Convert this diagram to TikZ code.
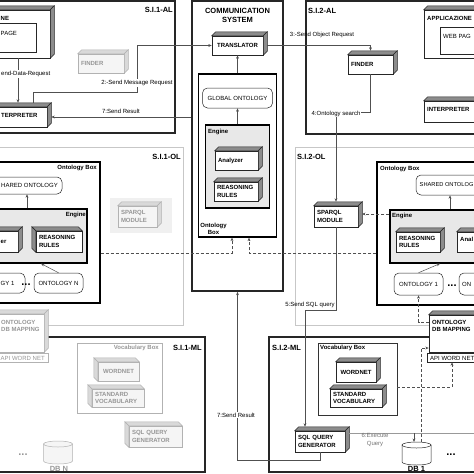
\documentclass[tikz,border=0pt]{standalone}
\usepackage{fontspec}
\setmainfont{Liberation Sans}
\usetikzlibrary{arrows.meta}

% 3D faces of a node box (back face up-right or up-left)
\newcommand{\cubetr}[2][cubeface]{%
  \filldraw[#1] (#2.north west) -- ([shift={(4pt,4pt)}]#2.north west) -- ([shift={(4pt,4pt)}]#2.north east) -- (#2.north east) -- cycle;
  \filldraw[#1] (#2.north east) -- ([shift={(4pt,4pt)}]#2.north east) -- ([shift={(4pt,4pt)}]#2.south east) -- (#2.south east) -- cycle;
}
\newcommand{\cubetl}[2][cubeface]{%
  \filldraw[#1] (#2.north east) -- ([shift={(-4pt,4pt)}]#2.north east) -- ([shift={(-4pt,4pt)}]#2.north west) -- (#2.north west) -- cycle;
  \filldraw[#1] (#2.north west) -- ([shift={(-4pt,4pt)}]#2.north west) -- ([shift={(-4pt,4pt)}]#2.south west) -- (#2.south west) -- cycle;
}
% database drum round a node
\newcommand{\dbdrum}[2][elem]{%
  \filldraw[#1] ([yshift=-3pt]#2.north west) -- ([yshift=3pt]#2.south west) arc[start angle=180, end angle=360, x radius=14.5pt, y radius=3pt] -- ([yshift=-3pt]#2.north east) -- cycle;
  \filldraw[#1] ([yshift=-3pt]#2.north) ellipse [x radius=14.5pt, y radius=3pt];
}

\begin{document}
\begin{tikzpicture}[x=1pt, y=-1pt,
    txt/.style={font=\fontsize{6}{7.5}\selectfont, inner sep=0pt},
    btxt/.style={font=\fontsize{6}{7.5}\selectfont\bfseries, inner sep=0pt},
    head/.style={font=\fontsize{7.5}{9}\selectfont\bfseries, inner sep=0pt},
    ellip/.style={font=\fontsize{11}{11}\selectfont\bfseries, inner sep=0pt},
    elem/.style={draw=black!85, fill=white, line width=0.5pt, inner sep=2pt, font=\fontsize{6}{7.5}\selectfont\bfseries},
    fadedelem/.style={elem, draw=black!30, fill=black!4, text=faded},
    roundelem/.style={elem, rounded corners=5pt, font=\fontsize{6}{7.5}\selectfont},
    heavyelem/.style={draw=black, line width=1.2pt},
    engineelem/.style={heavyelem, fill=enginegray},
    sysframe/.style={draw=black!85, line width=1.4pt},
    olframe/.style={draw=black!22, line width=0.9pt},
    cubeface/.style={fill=cubeside, draw=black!85, line width=0.5pt},
    fadedface/.style={fill=black!15, draw=black!30, line width=0.5pt},
    drum/.style={inner sep=0pt, outer sep=0pt, minimum width=29pt, minimum height=23pt},
    arr/.style={draw=linegray, line width=0.5pt, -{Stealth[length=3.5pt,width=2.8pt]}},
    dasharr/.style={arr, dash pattern=on 3pt off 2pt},
    wire/.style={draw=black!40, line width=0.5pt}]

    % Define colors
    \definecolor{faded}{RGB}{150,150,150}
    \definecolor{cubeside}{RGB}{140,140,140}
    \definecolor{enginegray}{RGB}{232,232,232}
    \definecolor{linegray}{RGB}{80,80,80}

    \useasboundingbox (0,0) rectangle (474,474);

    % S.I.1-AL
    \draw[sysframe] (-5,1) -- (175,1) -- (175,133) -- (-5,133);
    \node[head, anchor=east] (al1) at (173,10) {S.I.1-AL};
    \node[elem, minimum width=90pt, minimum height=48pt] (appL) at (5,34) {};
    \cubetr{appL}
    \node[btxt, anchor=west] (appLt) at (0.5,18) {NE};
    \node[elem, minimum width=56pt, minimum height=29pt] (webL) at (8,37.5) {};
    \node[txt, anchor=west] (webLt) at (0.5,33) {PAGE};
    \node[fadedelem, minimum width=46pt, minimum height=19pt, text width=40pt, align=left] (finderL) at (101,63.5) {FINDER};
    \cubetr[fadedface]{finderL}
    \node[elem, minimum width=87pt, minimum height=20pt] (interL) at (3.5,117) {};
    \cubetr{interL}
    \node[btxt, anchor=west] (interLt) at (1,115) {TERPRETER};

    % communication system
    \node[sysframe, minimum width=91pt, minimum height=290pt] (comm) at (237.5,146) {};
    \node[head, align=center] (commt) at (237.5,15.5) {COMMUNICATION\\SYSTEM};
    \node[elem, minimum width=51pt, minimum height=19pt] (translator) at (237.5,45.5) {TRANSLATOR};
    \cubetr{translator}
    \node[heavyelem, minimum width=78pt, minimum height=163pt] (ontoC) at (237.5,155.5) {};
    \node[btxt, align=center] (ontoCt) at (213.5,229) {Ontology\\Box};
    \node[roundelem, minimum width=70pt, minimum height=20pt] (globalC) at (237.5,98) {GLOBAL ONTOLOGY};
    \node[engineelem, minimum width=64pt, minimum height=83pt] (engineC) at (237.5,166.5) {};
    \node[btxt, anchor=west] (engineCt) at (208,132) {Engine};
    \node[elem, minimum width=43pt, minimum height=19pt, text width=37pt, align=left] (analyzerC) at (236.5,160.5) {Analyzer};
    \cubetr{analyzerC}
    \node[elem, minimum width=44pt, minimum height=19pt, text width=38pt, align=left] (reasonC) at (236,191.5) {REASONING\\RULES};
    \cubetr{reasonC}

    % S.I.2-AL
    \draw[sysframe] (306,1) rectangle (480,134);
    \node[head, anchor=west] (al2) at (308,11) {S.I.2-AL};
    \node[elem, minimum width=45pt, minimum height=19pt, text width=39pt, align=left] (finderR) at (370.5,64.5) {FINDER};
    \cubetr{finderR}
    \node[elem, minimum width=66pt, minimum height=48pt] (appR) at (457,34) {};
    \cubetr{appR}
    \node[btxt, anchor=west] (appRt) at (427,18) {APPLICAZIONE};
    \node[elem, minimum width=50pt, minimum height=27pt] (webR) at (465,40.5) {};
    \node[txt, anchor=west] (webRt) at (443,36) {WEB PAG};
    \node[elem, minimum width=66pt, minimum height=21pt] (interR) at (457,111.5) {};
    \cubetr{interR}
    \node[btxt, anchor=west] (interRt) at (427,109) {INTERPRETER};

    % S.I.1-OL
    \draw[olframe] (-5,147) rectangle (183,325);
    \node[head, anchor=east] (ol1) at (181,157) {S.I.1-OL};
    \node[heavyelem, minimum width=105pt, minimum height=141pt] (ontoL) at (47.5,232.5) {};
    \node[btxt, anchor=east] (ontoLt) at (97,168) {Ontology Box};
    \node[roundelem, minimum width=102pt, minimum height=17pt] (sharedL) at (11,185.5) {};
    \node[txt, anchor=east] (sharedLt) at (58,185.5) {HARED ONTOLOGY};
    \node[engineelem, minimum width=92pt, minimum height=54pt] (engineL) at (41,236) {};
    \node[btxt, anchor=east] (engineLt) at (86,215) {Engine};
    \node[elem, minimum width=48pt, minimum height=21pt] (analyzerL) at (-6,241.5) {};
    \cubetr{analyzerL}
    \node[btxt, anchor=west] (analyzerLt) at (0.5,242) {er};
    \node[elem, minimum width=46pt, minimum height=21pt, text width=40pt, align=left] (reasonL) at (59,241.5) {REASONING\\RULES};
    \cubetl{reasonL}
    \node[roundelem, minimum width=55pt, minimum height=20pt] (onto1L) at (-2.5,283) {};
    \node[txt, anchor=west] (onto1Lt) at (0.5,283) {GY 1};
    \node[ellip] (dotsL) at (26,284.5) {...};
    \node[roundelem, minimum width=49pt, minimum height=20pt] (ontoNL) at (58.5,283) {ONTOLOGY N};
    \fill[black!6] (110,198) rectangle (172,233);
    \node[fadedelem, minimum width=39pt, minimum height=21pt, text width=33pt, align=left] (sparqlL) at (137.5,216.5) {SPARQL\\MODULE};
    \cubetr[fadedface]{sparqlL}

    % S.I.2-OL
    \draw[olframe] (295,147) rectangle (480,325);
    \node[head, anchor=west] (ol2) at (297,157) {S.I.2-OL};
    \node[elem, minimum width=44pt, minimum height=21pt, text width=38pt, align=left] (sparqlR) at (336,216.5) {SPARQL\\MODULE};
    \cubetr{sparqlR}
    \node[heavyelem, minimum width=113pt, minimum height=143pt] (ontoR) at (433.5,233.5) {};
    \node[btxt, anchor=west] (ontoRt) at (380,168.5) {Ontology Box};
    \node[roundelem, minimum width=94pt, minimum height=20pt] (sharedR) at (463,185) {};
    \node[txt, font=\fontsize{5.7}{7}\selectfont, anchor=west] (sharedRt) at (419.5,185) {SHARED ONTOLOG};
    \node[engineelem, minimum width=100pt, minimum height=53pt] (engineR) at (440,236.5) {};
    \node[btxt, anchor=west] (engineRt) at (392,216) {Engine};
    \node[elem, minimum width=44pt, minimum height=20pt, text width=38pt, align=left] (reasonR) at (418,242) {REASONING\\RULES};
    \cubetr{reasonR}
    \node[elem, minimum width=53pt, minimum height=20pt] (analyzerR) at (483.5,242) {};
    \cubetr{analyzerR}
    \node[btxt, anchor=west] (analyzerRt) at (460,239) {Anal};
    \node[roundelem, minimum width=49pt, minimum height=22pt] (onto1R) at (418.5,284) {ONTOLOGY 1};
    \node[ellip] (dotsR) at (452,285.5) {...};
    \node[roundelem, minimum width=56pt, minimum height=22pt] (ontoNR) at (487,284) {};
    \node[txt, anchor=west] (ontoNRt) at (462,284) {ON};

    % S.I.1-ML
    \draw[sysframe] (-5,337) rectangle (205,472);
    \node[head, anchor=east] (ml1) at (202,348) {S.I.1-ML};
    \node[fadedelem, fill=white, minimum width=84pt, minimum height=38pt] (dbmapL) at (2,333) {};
    \cubetr[fadedface]{dbmapL}
    \node[btxt, text=faded, anchor=west, align=left] (dbmapLt) at (1,326) {ONTOLOGY\\DB MAPPING};
    \node[fadedelem, fill=white, minimum width=53pt, minimum height=9pt] (apiL) at (21.5,357.5) {};
    \node[txt, text=faded, anchor=west] (apiLt) at (0.5,358) {API WORD NET};
    \node[draw=black!30, line width=0.6pt, minimum width=85pt, minimum height=70pt] (vocabL) at (119.5,378) {};
    \node[btxt, text=faded, anchor=east] (vocabLt) at (159,348) {Vocabulary Box};
    \node[fadedelem, minimum width=41pt, minimum height=19pt] (wordnetL) at (118.5,371.5) {WORDNET};
    \cubetl[fadedface]{wordnetL}
    \node[fadedelem, minimum width=52pt, minimum height=18pt, text width=46pt, align=left] (stdvocL) at (118,398) {STANDARD\\VOCABULARY};
    \cubetl[fadedface]{stdvocL}
    \node[fadedelem, minimum width=53pt, minimum height=21pt, text width=47pt, align=left] (sqlL) at (155.5,436.5) {SQL QUERY\\GENERATOR};
    \cubetl[fadedface]{sqlL}
    \node[drum] (dbN) at (58,452.5) {};
    \dbdrum[fadedelem]{dbN}
    \node[head, text=faded] (dbNt) at (59,468.5) {DB N};
    \node[ellip, text=faded] (dotsDbL) at (23,455) {...};

    % S.I.2-ML
    \draw[sysframe] (269,337) rectangle (480,472);
    \node[head, anchor=west] (ml2) at (272,348) {S.I.2-ML};
    \node[draw=black!80, line width=0.6pt, minimum width=79pt, minimum height=72pt] (vocabR) at (357.5,379) {};
    \node[btxt, anchor=west] (vocabRt) at (320,348) {Vocabulary Box};
    \node[elem, minimum width=40pt, minimum height=20pt] (wordnetR) at (356,372) {WORDNET};
    \cubetr{wordnetR}
    \node[elem, minimum width=52pt, minimum height=18pt, text width=46pt, align=left] (stdvocR) at (356,398) {STANDARD\\VOCABULARY};
    \cubetr{stdvocR}
    \node[elem, minimum width=50pt, minimum height=21pt, text width=44pt, align=left] (sqlR) at (320,441.5) {SQL QUERY\\GENERATOR};
    \cubetr{sqlR}
    \node[elem, minimum width=61pt, minimum height=37pt] (dbmapR) at (459.5,333.5) {};
    \cubetr{dbmapR}
    \node[btxt, anchor=west, align=left] (dbmapRt) at (432,326) {ONTOLOGY\\DB MAPPING};
    \node[elem, minimum width=63pt, minimum height=9pt] (apiR) at (458.5,357.5) {};
    \node[txt, anchor=west] (apiRt) at (430,358) {API WORD NET};
    \node[drum] (db1) at (416.5,453.5) {};
    \dbdrum{db1}
    \node[head] (db1t) at (416.5,468.5) {DB 1};
    \node[ellip] (dotsDbR) at (451,455) {...};

    % messages
    \coordinate (dataL) at (18,74);
    \draw[arr, shorten >=4pt] (appL.south -| dataL) -- (interL.north -| dataL);
    \node[txt, fill=white, inner sep=1pt, anchor=west] (dataLt) at (0,74) {end-Data-Request};

    \coordinate (msgA) at (33,92);
    \coordinate (msgB) at (137,92);
    \draw[arr, shorten <=4pt] (interL.north -| msgA) -- (msgA) -- (msgB) |- (translator.west);
    \node[txt, fill=white, inner sep=1pt] (msgLt) at (137,83) {2:-Send Message Request};

    \draw[arr, shorten <=4pt] (translator.east) -| ([yshift=4pt]finderR.north);
    \node[txt] (objLt) at (322,35) {3:-Send Object Request};

    \coordinate (search) at (336,112);
    \draw[arr, shorten >=4pt] (finderR.south) |- (search) -- (sparqlR.north);
    \node[txt, fill=white, inner sep=1pt] (searchLt) at (336,113.5) {4:Ontology search};

    \coordinate (sqlBend) at (305,310);
    \draw[arr, shorten >=4pt] (sparqlR.south) |- (sqlBend) -- (sqlR.north -| sqlBend);
    \node[txt] (sqlLt) at (310,305) {5:Send SQL query};

    \coordinate (execA) at (349,433);
    \coordinate (execB) at (480,433);
    \coordinate (execDb) at (414,433);
    \draw[wire] (execA) -- (execB);
    \draw[arr] (execDb) -- (db1.north -| execDb);
    \node[txt, text=black!55, align=center] (execLt) at (375,440) {6:Execute\\Query};

    \coordinate (resB) at (237.5,460);
    \draw[arr] (sqlR.south) |- (resB) -- (comm.south);
    \node[txt, fill=white, inner sep=1pt] (resBt) at (236,415) {7:Send Result};

    \draw[arr, shorten >=4pt] (comm.west |- interL.east) -- (interL.east);
    \node[txt] (resTt) at (121,111) {7:Send Result};

    % inner links
    \draw[arr] (ontoC.north) -- (translator.south);
    \draw[arr] (engineC.north) -- (globalC.south);
    \coordinate (sharedLx) at (27,0);
    \draw[arr] (engineL.north -| sharedLx) -- (sharedL.south -| sharedLx);
    \draw[arr] (ontoNL.north) -- (engineL.south);
    \coordinate (sharedRx) at (450,0);
    \draw[arr] (engineR.north -| sharedRx) -- (sharedR.south -| sharedRx);
    \draw[arr] (onto1R.north) -- (engineR.south);

    % dashed links
    \coordinate (olLeft) at (232,253);
    \coordinate (olRight) at (249,253);
    \draw[dasharr] (ontoL.east |- olLeft) -- (olLeft) -- (ontoC.south -| olLeft);
    \draw[dasharr] (ontoR.west |- olRight) -- (olRight) -- (ontoC.south -| olRight);
    \coordinate (sparqlIn) at (362,214);
    \draw[dasharr] (engineR.west |- sparqlIn) -- (sparqlIn);
    \coordinate (mapOnto) at (418.5,322);
    \draw[dasharr] (dbmapR.west |- mapOnto) -- (mapOnto) -- (onto1R.south);
    \coordinate (mapUp) at (421,348);
    \draw[dasharr] (db1.north -| mapUp) -- (mapUp) -- (dbmapR.west |- mapUp);
    \coordinate (vocApi) at (452,387);
    \draw[dasharr] (vocabR.east |- vocApi) -- (vocApi) -- (apiR.south -| vocApi);

\end{tikzpicture}
\end{document}
